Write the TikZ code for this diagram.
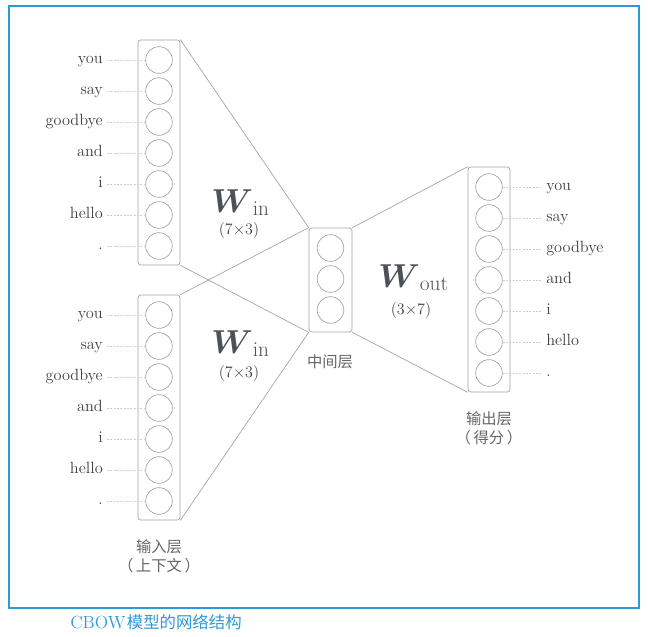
\documentclass[tikz,border=0pt]{standalone}
\usepackage{fontspec}
\usepackage{amsmath,amssymb}
\usepackage{bm}
\newfontfamily\cjk{Noto Sans CJK SC}
\usetikzlibrary{positioning}
\definecolor{linegray}{HTML}{A2A2A2}
\definecolor{dashgray}{HTML}{CFCFCF}
\definecolor{textgray}{HTML}{3F3F3F}
\definecolor{wgray}{HTML}{4C5057}
\definecolor{frameblue}{HTML}{2B9AD6}
\newcommand{\wsub}[1]{\raisebox{-2.5pt}{\fontsize{16}{17}\selectfont #1}}

\begin{document}
\begin{tikzpicture}[x=0.75pt,y=-0.75pt]
	\useasboundingbox (0,0) rectangle (648,636);
	\draw[frameblue,line width=1.1pt] (9,6) rectangle (639,608);

	\begin{scope}[every node/.style={draw=linegray,line width=0.5pt,rounded corners=2pt,inner sep=0pt,minimum width=31.5pt}]
    \node[minimum height=168.75pt] (inA) at (159,152.5) {};
    \node[minimum height=168.75pt] (inB) at (159,407.5) {};
    \node[minimum width=32.25pt,minimum height=78pt] (hid) at (330.5,280) {};
    \node[minimum height=168.75pt] (out) at (489,279.5) {};
	\end{scope}

	\begin{scope}[unit/.style={circle,draw=linegray,line width=0.5pt,minimum size=20pt,inner sep=0pt},
              word/.style={text=textgray,font=\fontsize{12.2}{14}\selectfont,text height=1.5ex,text depth=.25ex,inner sep=3pt},
              tick/.style={draw=dashgray,line width=0.4pt,dash pattern=on 1.5pt off 1pt}]
    \foreach \w [count=\i] in {you,say,goodbye,and,i,hello,.} {
      \node[unit] (a\i) at (159,29+31*\i) {};
      \node[word,anchor=east] (wa\i) at (107,29+31*\i) {\w};
      \draw[tick] (wa\i) -- (a\i);
      \node[unit] (b\i) at (159,284+31*\i) {};
      \node[word,anchor=east] (wb\i) at (107,284+31*\i) {\w};
      \draw[tick] (wb\i) -- (b\i);
      \node[unit] (o\i) at (489,156+31*\i) {};
      \node[word,anchor=west] (wo\i) at (542,156+31*\i) {\w};
      \draw[tick] (o\i) -- (wo\i);
    }
    \foreach \i in {1,2,3}
      \node[unit] (h\i) at (330.5,217+31*\i) {};
	\end{scope}

	\begin{scope}[every path/.style={draw=linegray,line width=0.5pt}]
    \path (inA.north east) -- (hid.north west);
    \path (inA.south east) -- (hid.south west);
    \path (inB.north east) -- (hid.north west);
    \path (inB.south east) -- (hid.south west);
    \path (hid.north east) -- (out.north west);
    \path (hid.south east) -- (out.south west);
	\end{scope}

	\begin{scope}[wlab/.style={text=wgray,font=\fontsize{26}{30}\selectfont,inner sep=0pt,anchor=base west},
              dim/.style={text=textgray,font=\fontsize{12}{14}\selectfont,inner sep=0pt},
              cn/.style={text=textgray!80,font=\cjk\fontsize{11.5}{14.5}\selectfont,align=center}]
    \node[wlab] (wA) at (211,212) {$\bm{W}$\wsub{in}};
    \node[dim] (dA) at (239,230) {(7$\times$3)};
    \node[wlab] (wB) at (211,353) {$\bm{W}$\wsub{in}};
    \node[dim] (dB) at (239,373) {(7$\times$3)};
    \node[wlab] (wO) at (378,287) {$\bm{W}$\wsub{out}};
    \node[dim] (dO) at (411,310) {(3$\times$7)};
    \node[cn] (lhid) at (330,362) {中间层};
    \node[cn] (lout) at (489,428) {输出层\\（\hspace{2pt}得分\hspace{2pt}）};
    \node[cn] (lin) at (159,556) {输入层\\（\hspace{2pt}上下文\hspace{2pt}）};
    \node[anchor=west,inner sep=0pt,text=frameblue] (cap) at (70,622) {\fontsize{13.2}{15}\selectfont CBOW\hspace{1pt}{\cjk\fontsize{12.3}{15}\selectfont 模型的网络结构}};
	\end{scope}
\end{tikzpicture}
\end{document}
